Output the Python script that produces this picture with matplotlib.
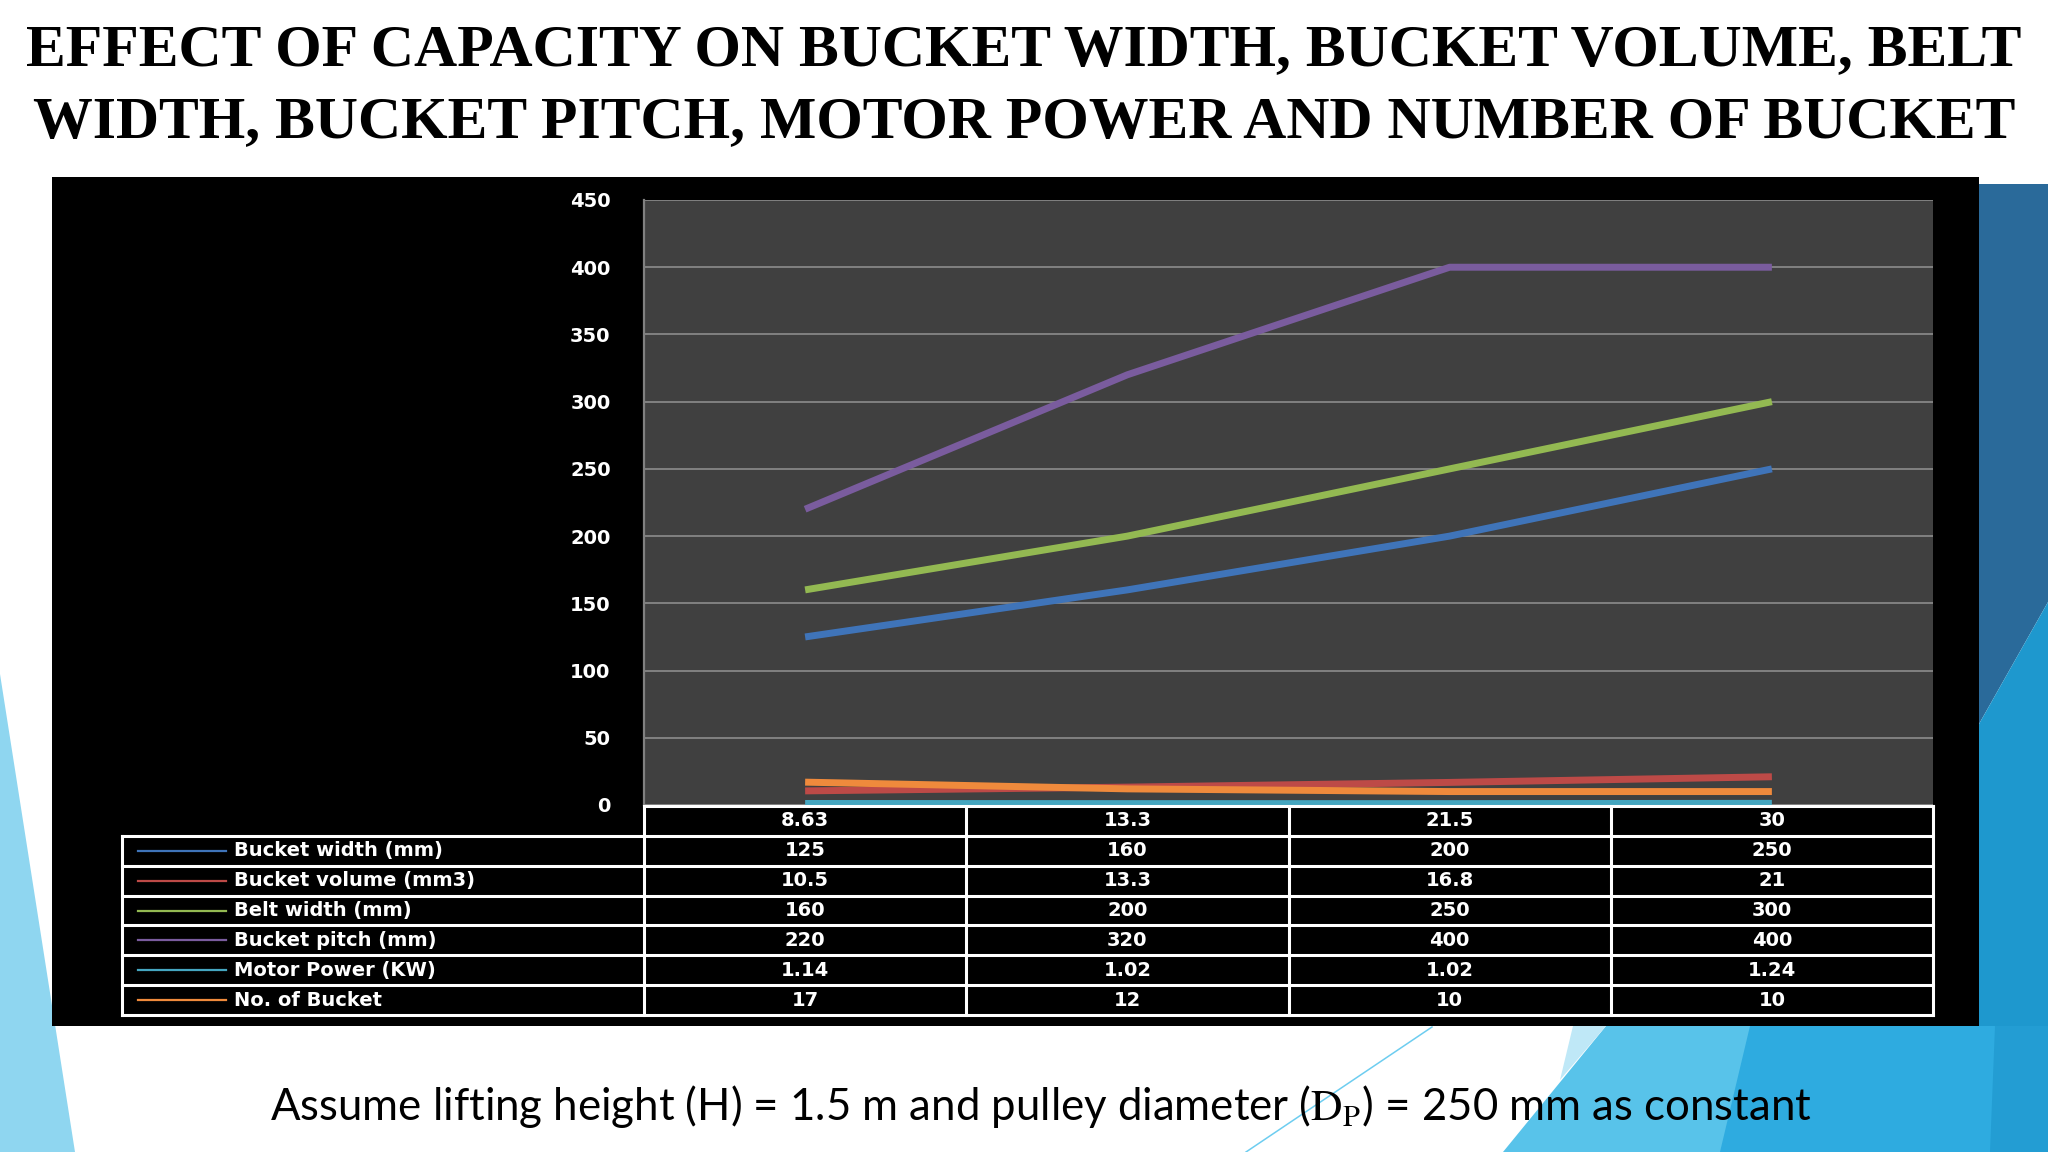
import matplotlib
matplotlib.use('Agg')
import matplotlib.pyplot as plt
from matplotlib.patches import Polygon, Rectangle

plt.rcParams['mathtext.fontset'] = 'stix'

# data
capacity = ['8.63', '13.3', '21.5', '30']
series_names = ['Bucket width (mm)', 'Bucket volume (mm3)', 'Belt width (mm)',
                'Bucket pitch (mm)', 'Motor Power (KW)', 'No. of Bucket']
bucket_width = [125, 160, 200, 250]
bucket_volume = [10.5, 13.3, 16.8, 21]
belt_width = [160, 200, 250, 300]
bucket_pitch = [220, 320, 400, 400]
motor_power = [1.14, 1.02, 1.02, 1.24]
no_of_bucket = [17, 12, 10, 10]
series_labels = [['125', '160', '200', '250'],
                 ['10.5', '13.3', '16.8', '21'],
                 ['160', '200', '250', '300'],
                 ['220', '320', '400', '400'],
                 ['1.14', '1.02', '1.02', '1.24'],
                 ['17', '12', '10', '10']]
colors = ['#3f74b9', '#bd4a47', '#93b952', '#7a5c9e', '#45a6c0', '#ef8a3c']

title_lines = ['EFFECT OF CAPACITY ON BUCKET WIDTH, BUCKET VOLUME, BELT',
               'WIDTH, BUCKET PITCH, MOTOR POWER AND NUMBER OF BUCKET']
footer = r'Assume lifting height (H) = 1.5 m and pulley diameter ($\mathrm{D_P}$) = 250 mm as constant'

W, H = 2048, 1152


def box(x0, y0, x1, y1):
    # pixel box (top-left origin) -> figure fraction
    return [x0 / W, 1 - y1 / H, (x1 - x0) / W, (y1 - y0) / H]


fig = plt.figure(figsize=(W / 100, H / 100), dpi=100)
fig.patch.set_facecolor('white')

# slide background + decorations
bg = fig.add_axes([0, 0, 1, 1])
bg.set_xlim(0, W)
bg.set_ylim(H, 0)
bg.axis('off')

bg.add_patch(Polygon([(0, 674), (75, 1152), (0, 1152)], color='#8fd6f0', lw=0))
bg.add_patch(Polygon([(1979, 184), (2048, 184), (2048, 602), (1979, 724)], color='#2a6a9a', lw=0))
bg.add_patch(Polygon([(1979, 724), (2048, 602), (2048, 1152), (1979, 1152)], color='#1e98ce', lw=0))
bg.add_patch(Polygon([(1503, 1152), (1606, 1026), (2048, 1026), (2048, 1152)], color='#58c3ea', lw=0))
bg.add_patch(Polygon([(1573, 1026), (1606, 1026), (1560, 1080)], color='#bfe8f7', lw=0))
bg.add_patch(Polygon([(1720, 1152), (1750, 1026), (2048, 1026), (2048, 1152)], color='#2eabe0', lw=0))
bg.add_patch(Polygon([(1990, 1152), (1995, 1026), (2048, 1026), (2048, 1152)], color='#239dd3', lw=0))
bg.plot([1246, 1432], [1152, 1027], color='#6dcdf0', lw=1.1)

# black chart panel
bg.add_patch(Rectangle((52, 177), 1927, 849, color='black', lw=0))

for txt, yb in zip(title_lines, [65, 137]):
    bg.text(1024, yb, txt, ha='center', va='baseline', fontsize=43,
            family='Liberation Serif', weight='bold', color='black')

bg.text(1041, 1120, footer, ha='center', va='baseline', fontsize=31.5,
        family='Lato', color='black')

# chart
ax = fig.add_axes(box(644, 200, 1933, 805))
ax.set_facecolor('#404040')
ax.set_xlim(-0.5, 3.5)
ax.set_ylim(0, 450)
ax.set_yticks(range(0, 451, 50))
ax.set_xticks([])
ax.yaxis.grid(True, color='#8c8c8c', lw=1.2)
ax.set_axisbelow(True)
for s in ['top', 'right', 'bottom']:
    ax.spines[s].set_visible(False)
ax.spines['left'].set_color('#808080')
ax.spines['left'].set_linewidth(1.6)
ax.tick_params(axis='y', length=0, pad=24, labelcolor='white', labelsize=14)
for lab in ax.get_yticklabels():
    lab.set_fontweight('bold')

x = range(len(capacity))
all_series = [bucket_width, bucket_volume, belt_width, bucket_pitch, motor_power, no_of_bucket]
for vals, c in zip(all_series, colors):
    ax.plot(x, vals, color=c, lw=5, clip_on=False, zorder=3, solid_capstyle='butt')

# data table under the chart
unit = (1933 - 644) / 4.0
lab_w = (644 - 122) / unit
left = -0.5 - lab_w
tax = fig.add_axes(box(122, 806, 1933, 1015))
tax.set_xlim(left, 3.5)
tax.set_ylim(7, 0)
tax.axis('off')

lc = 'white'
lw_t = 2.2
tax.plot([-0.5, 3.5], [0, 0], color=lc, lw=lw_t, clip_on=False)
for r in range(1, 8):
    tax.plot([left, 3.5], [r, r], color=lc, lw=lw_t, clip_on=False)
for xv in [-0.5, 0.5, 1.5, 2.5, 3.5]:
    tax.plot([xv, xv], [0, 7], color=lc, lw=lw_t, clip_on=False)
tax.plot([left, left], [1, 7], color=lc, lw=lw_t, clip_on=False)

for i, cap in enumerate(capacity):
    tax.text(i, 0.5, cap, ha='center', va='center', color='white',
             fontsize=14, weight='bold')

for r, (name, labs, c) in enumerate(zip(series_names, series_labels, colors), start=1):
    tax.plot([left + 16 / unit, left + 104 / unit], [r + 0.5, r + 0.5], color=c, lw=1.6)
    tax.text(left + 112 / unit, r + 0.5, name, ha='left', va='center',
             color='white', fontsize=14, weight='bold')
    for i, t in enumerate(labs):
        tax.text(i, r + 0.5, t, ha='center', va='center', color='white',
                 fontsize=14, weight='bold')

fig.savefig('out.png', dpi=100, facecolor=fig.get_facecolor())
